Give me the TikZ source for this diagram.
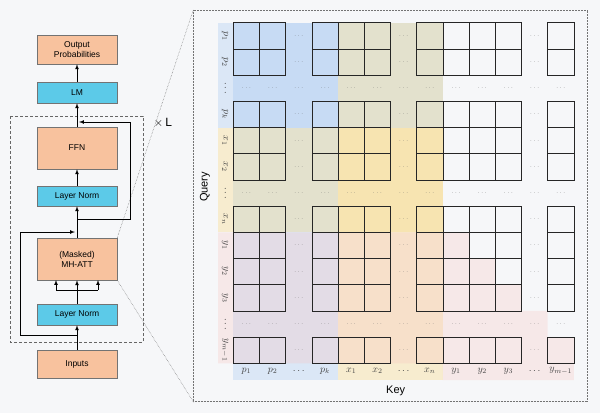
\documentclass[tikz,border=0pt]{standalone}
\usepackage{fontspec}
\setsansfont{Liberation Sans}
\begin{document}
\begin{tikzpicture}[x=1pt,y=-1pt,
  box/.style={draw=black!55,line width=0.5pt,minimum width=80pt,font=\sffamily\fontsize{8.5}{10}\selectfont,align=center,inner sep=1pt},
  arr/.style={-latex,line width=0.7pt},
  ln/.style={line width=0.7pt},
  cell/.style={draw=black!85,line width=0.7pt},
  dd/.style={font=\fontsize{6}{6}\selectfont,text=black!60},
  zoomline/.style={densely dotted,black!55,line width=0.5pt}]
\definecolor{bg}{RGB}{246,247,249}
\definecolor{orgF}{RGB}{248,194,158}
\definecolor{cyF}{RGB}{92,202,232}
\definecolor{bandB}{RGB}{150,190,240}
\definecolor{bandY}{RGB}{250,210,100}
\definecolor{bandP}{RGB}{248,195,190}
\fill[bg] (0,0) rectangle (600,413);
\useasboundingbox (0,0) rectangle (600,413);
% zoom frame
\draw[zoomline] (193.3,10) rectangle (587.3,401.7);
% left column
\node[box,fill=orgF,minimum height=29pt] (out) at (77,49.5) {Output\\Probabilities};
\node[box,fill=cyF,minimum height=21pt] (lm) at (77,92.5) {LM};
\draw[densely dashed,black!60,line width=0.6pt,fill=bg] (10,116) rectangle (143,342);
\node[box,fill=orgF,minimum height=42pt] (ffn) at (77,148) {FFN};
\node[box,fill=cyF,minimum height=20pt] (ln2) at (77,196) {Layer Norm};
\node[box,fill=orgF,minimum height=42pt] (att) at (77,259) {(Masked)\\MH-ATT};
\node[box,fill=cyF,minimum height=21pt] (ln1) at (77,314.5) {Layer Norm};
\node[box,fill=orgF,minimum height=28pt] (inp) at (77,364) {Inputs};
\node[font=\sffamily\fontsize{12}{12}\selectfont] (xl) at (163,123) {$\times$\,L};
\draw[zoomline] (att.north east) -- (193.3,10);
\draw[zoomline] (att.south east) -- (193.3,401.7);
% arrows
\draw[arr] (inp) -- (ln1);
\draw[ln] (ln1.north) -- (77,290);
\draw[ln] (56,290) -- (98,290);
\draw[arr] (56,290) -- (56,280);
\draw[arr] (77,290) -- (att.south);
\draw[arr] (98,290) -- (98,280);
\coordinate (r1) at (77,335);
\draw[arr] (r1) -| (20,232) -- (75,232);
\draw[arr] (att) -- (ln2);
\coordinate (r2) at (77,219);
\draw[arr] (r2) -| (130,122) -- (79,122);
\draw[arr] (ln2) -- (ffn);
\draw[arr] (ffn) -- (lm);
\draw[arr] (lm) -- (out);
% bands
\def\Xo{233.3}\def\Yo{22.7}\def\s{26.2}
\begin{scope}[fill opacity=0.28]
\fill[bandB] (\Xo,\Yo) rectangle (\Xo+4*\s,380);
\fill[bandB] (218,\Yo) rectangle (\Xo+8*\s,\Yo+4*\s);
\fill[bandY] (\Xo+4*\s,\Yo) rectangle (\Xo+8*\s,380);
\fill[bandY] (218,\Yo+4*\s) rectangle (\Xo+8*\s,\Yo+8*\s);
\fill[bandP] (218,\Yo+8*\s) -- (\Xo+9*\s,\Yo+8*\s) -- (\Xo+9*\s,\Yo+9*\s) -- (\Xo+10*\s,\Yo+9*\s)
  -- (\Xo+10*\s,\Yo+10*\s) -- (\Xo+11*\s,\Yo+10*\s) -- (\Xo+11*\s,\Yo+11*\s) -- (\Xo+12*\s,\Yo+11*\s)
  -- (\Xo+12*\s,\Yo+12*\s) -- (\Xo+13*\s,\Yo+12*\s) -- (\Xo+13*\s,380) -- (\Xo+8*\s,380)
  -- (\Xo+8*\s,\Yo+13*\s) -- (218,\Yo+13*\s) -- cycle;
\end{scope}
% cells
\foreach \r in {0,1,3,4,5,7,8,9,10,12}{
  \foreach \c in {0,1,3,4,5,7,8,9,10,12}{
    \draw[cell] (\Xo+\c*\s,\Yo+\r*\s) rectangle ++(\s,\s);
  }}
\foreach \r in {0,...,12}{
  \foreach \c in {2,6,11}{
    \node[dd] at (\Xo+\c*\s+0.5*\s,\Yo+\r*\s+0.5*\s) {$\cdots$};
  }}
\foreach \r in {2,6,11}{
  \foreach \c in {0,1,3,4,5,7,8,9,10,12}{
    \node[dd] at (\Xo+\c*\s+0.5*\s,\Yo+\r*\s+0.5*\s) {$\cdots$};
  }}
% labels
\foreach \t [count=\i from 0] in {p_1,p_2,\cdots,p_k,x_1,x_2,\cdots,x_n,y_1,y_2,y_3,\cdots,y_{m-1}}{
  \node[rotate=-90,font=\fontsize{10}{10}\selectfont,text=black!75] (rl\i) at (225,\Yo+\i*\s+0.5*\s) {$\t$};
  \node[font=\fontsize{10}{10}\selectfont,text=black!75] (cl\i) at (\Xo+\i*\s+0.5*\s,371) {$\t$};
}
\node[font=\sffamily\fontsize{11}{11}\selectfont] (key) at (395.7,390.5) {Key};
\node[rotate=90,font=\sffamily\fontsize{11}{11}\selectfont] (query) at (205,187) {Query};
\end{tikzpicture}
\end{document}
